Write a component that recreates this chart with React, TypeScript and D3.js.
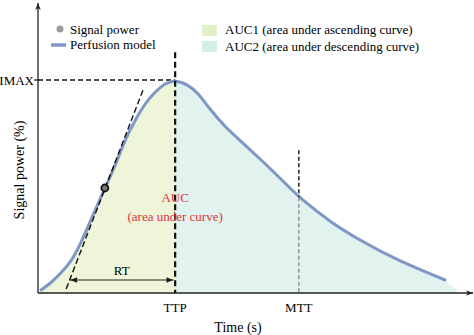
import React from "react";
import * as d3 from "d3";

// perfusion model curve, time (arbitrary units) vs signal (% of IMAX)
const curveTime = [0.7, 3.0, 5.3, 7.6, 9.9, 12.2, 14.5, 17.7, 20.0, 22.4, 24.7, 27.0, 29.3, 31.6, 34.6, 36.9, 39.2, 43.1, 47.0, 50.7, 54.6, 58.5, 60.4, 67.3, 74.9, 82.7, 93.8];
const curveSignal = [1.4, 4.7, 9.4, 14.6, 23.5, 34.3, 45.1, 59.2, 71.8, 81.2, 89.2, 94.4, 98.6, 100, 97.7, 93.9, 87.3, 77.9, 70.9, 63.8, 56.3, 48.4, 44.6, 33.3, 23.9, 15.5, 6.1];
// fill runs a little past the end of the curve
const tailTime = [96.5];
const tailSignal = [1.4];

const TTP = 31.6;
const MTT = 60.1;
const IMAX = 100;
const tangent = [[6.5, 1.9], [24.2, 95.3]];
const markerPoint = [15.4, 49.3];
const rtRange = [7.4, 31.2];

const legendItems = ["Signal power", "Perfusion model"];
const aucItems = ["AUC1 (area under ascending curve)", "AUC2 (area under descending curve)"];

const W = 474;
const H = 335;
const FONT = "'Liberation Serif', 'Times New Roman', 'DejaVu Serif', serif";

export default function App() {
  const x = d3.scaleLinear().domain([0, 100]).range([38, 472]);
  const y = d3.scaleLinear().domain([0, 100]).range([293, 80]);

  const pts = curveTime.map((t, i) => [t, curveSignal[i]] as [number, number]);
  const tail = tailTime.map((t, i) => [t, tailSignal[i]] as [number, number]);

  // smooth the read-off points into a model-like curve
  const line = d3.line<[number, number]>()
    .x(d => x(d[0]))
    .y(d => y(d[1]))
    .curve(d3.curveBasis);

  const area = d3.area<[number, number]>()
    .x(d => x(d[0]))
    .y0(y(0))
    .y1(d => y(d[1]))
    .curve(d3.curveBasis);

  const rising = pts.filter(d => d[0] <= TTP);
  const falling = pts.filter(d => d[0] >= TTP).concat(tail);

  const ttpX = x(TTP);
  const mttX = x(MTT);
  const mttCurveY = y(45);

  return (
    <svg width={W} height={H} style={{ position: "absolute", left: 0, top: 0, background: "#fff", fontFamily: FONT }}>
      <defs>
        <marker id="arr" viewBox="0 0 10 10" refX="10" refY="5" markerWidth="9" markerHeight="7" orient="auto-start-reverse" markerUnits="userSpaceOnUse">
          <path d="M0,1 L10,5 L0,9 z" fill="#222" />
        </marker>
        <marker id="axArr" viewBox="0 0 10 10" refX="10" refY="5" markerWidth="12" markerHeight="7" orient="auto" markerUnits="userSpaceOnUse">
          <path d="M0,1 L10,5 L0,9 L3,5 z" fill="#222" />
        </marker>
      </defs>

      {/* fills */}
      <path d={area(rising) ?? ""} fill="#eef5d9" />
      <path d={area(falling) ?? ""} fill="#e2f2ee" />

      {/* axes */}
      <line x1={38} y1={293} x2={38} y2={3} stroke="#222" strokeWidth={1.3} markerEnd="url(#axArr)" />
      <line x1={38} y1={293} x2={473} y2={293} stroke="#222" strokeWidth={1.3} markerEnd="url(#axArr)" />

      {/* IMAX */}
      <line x1={38} y1={y(IMAX)} x2={ttpX} y2={y(IMAX)} stroke="#111" strokeWidth={1.4} strokeDasharray="5,3" />
      <line x1={34} y1={y(IMAX)} x2={38} y2={y(IMAX)} stroke="#111" strokeWidth={1.2} />
      <text x={34} y={y(IMAX) + 4.5} textAnchor="end" fontSize={13}>IMAX</text>

      {/* model curve */}
      <path d={line(pts) ?? ""} fill="none" stroke="#7e97c4" strokeWidth={3} strokeLinecap="round" />

      {/* TTP line */}
      <line x1={ttpX} y1={y(113)} x2={ttpX} y2={293} stroke="#111" strokeWidth={2.2} strokeDasharray="6,3.5" />

      {/* MTT line */}
      <line x1={mttX} y1={y(67)} x2={mttX} y2={mttCurveY} stroke="#222" strokeWidth={1.5} strokeDasharray="4,2.5" />
      <line x1={mttX} y1={mttCurveY} x2={mttX} y2={293} stroke="#888" strokeWidth={1.3} strokeDasharray="4,2.5" />

      {/* tangent */}
      <line x1={x(tangent[0][0])} y1={y(tangent[0][1])} x2={x(tangent[1][0])} y2={y(tangent[1][1])} stroke="#111" strokeWidth={1.4} strokeDasharray="6,3" />

      {/* marker */}
      <circle cx={x(markerPoint[0])} cy={y(markerPoint[1])} r={3.5} fill="#777" stroke="#111" strokeWidth={1.8} />

      {/* RT */}
      <line x1={x(rtRange[0])} y1={280} x2={x(rtRange[1])} y2={280} stroke="#222" strokeWidth={1} markerStart="url(#arr)" markerEnd="url(#arr)" />
      <text x={(x(rtRange[0]) + x(rtRange[1])) / 2} y={275} textAnchor="middle" fontSize={13}>RT</text>

      {/* AUC label */}
      <text x={ttpX} y={202} textAnchor="middle" fontSize={13} fill="#e0333a">AUC</text>
      <text x={ttpX} y={221} textAnchor="middle" fontSize={13} fill="#e0333a">(area under curve)</text>

      {/* x labels */}
      <text x={ttpX} y={312} textAnchor="middle" fontSize={13}>TTP</text>
      <text x={mttX} y={312} textAnchor="middle" fontSize={13}>MTT</text>
      <text x={238} y={332} textAnchor="middle" fontSize={14}>Time (s)</text>
      <text transform={`translate(24,${170}) rotate(-90)`} textAnchor="middle" fontSize={14}>Signal power (%)</text>

      {/* legend left */}
      <circle cx={60} cy={29} r={3.5} fill="#9a9a9a" />
      <text x={70} y={33.5} fontSize={13}>{legendItems[0]}</text>
      <line x1={51} y1={45} x2={66} y2={45} stroke="#7e97c4" strokeWidth={3.5} />
      <text x={70} y={49} fontSize={13}>{legendItems[1]}</text>

      {/* legend right */}
      <rect x={202} y={25} width={15} height={11} fill="#e2f0c8" />
      <text x={225} y={34} fontSize={13}>{aucItems[0]}</text>
      <rect x={202} y={41} width={15} height={11} fill="#d6eeea" />
      <text x={225} y={51} fontSize={13}>{aucItems[1]}</text>
    </svg>
  );
}
